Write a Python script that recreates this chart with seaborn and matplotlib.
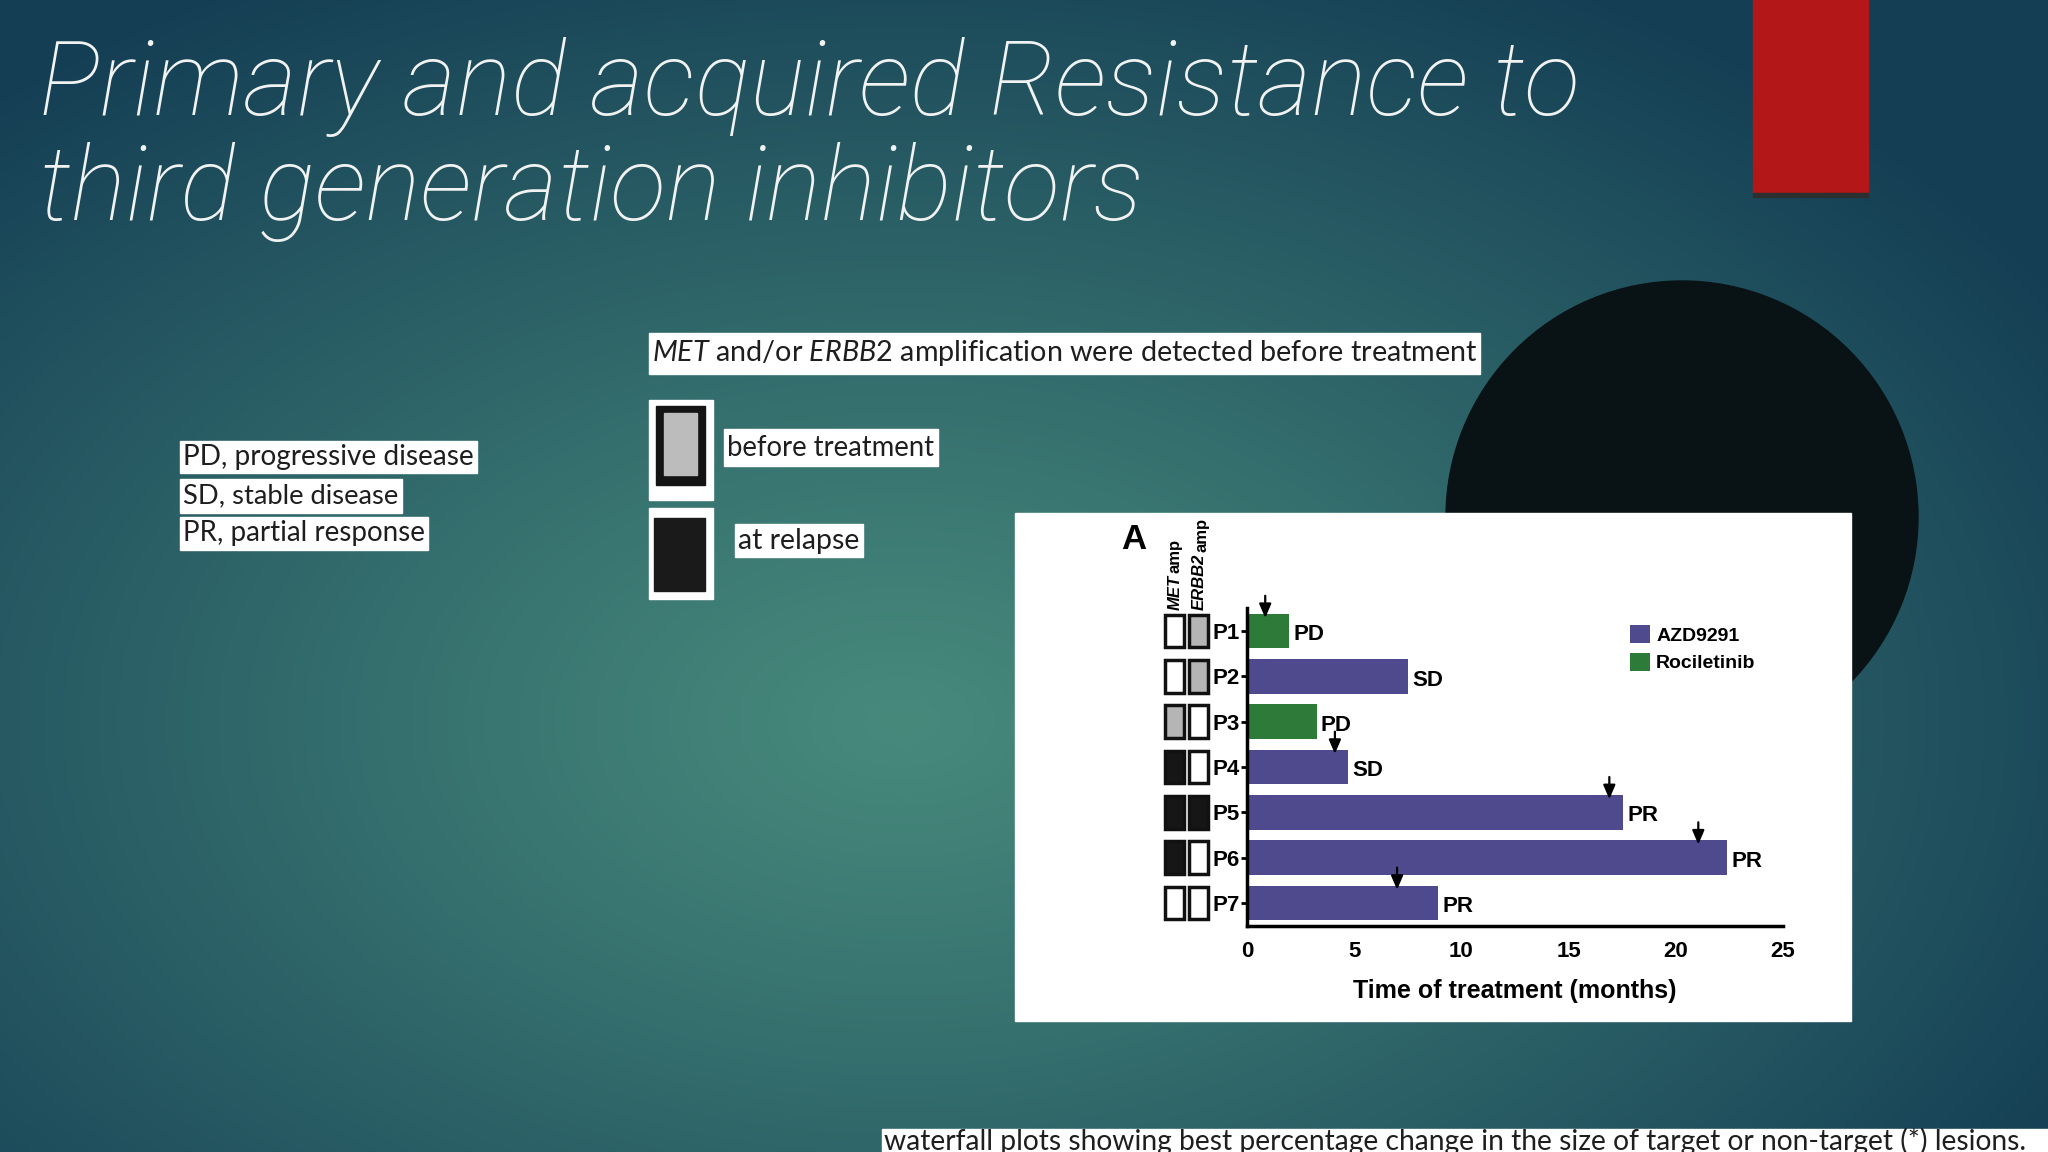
import numpy as np
import pandas as pd
import seaborn as sns
import matplotlib.pyplot as plt
import matplotlib.transforms as mtransforms
from matplotlib.patches import Rectangle, Circle, Patch

# chart values
patients = ["P1", "P2", "P3", "P4", "P5", "P6", "P7"]
months = [1.95, 7.5, 3.25, 4.7, 17.55, 22.4, 8.9]
drugs = ["Rociletinib", "AZD9291", "Rociletinib", "AZD9291", "AZD9291", "AZD9291", "AZD9291"]
responses = ["PD", "SD", "PD", "SD", "PR", "PR", "PR"]
progression = [0.85, None, None, 4.1, 16.9, 21.05, 7.0]
met_amp = ["none", "none", "before", "relapse", "relapse", "relapse", "none"]
erbb2_amp = ["before", "before", "none", "none", "relapse", "none", "none"]
drug_order = ["AZD9291", "Rociletinib"]
x_ticks = [0, 5, 10, 15, 20, 25]

# slide texts
title_lines = ["Primary and acquired Resistance to", "third generation inhibitors"]
response_key = ["PD, progressive disease", "SD, stable disease", "PR, partial response"]
header = r"$\mathit{MET}$ and/or $\mathit{ERBB2}$ amplification were detected before treatment"
amp_key = ["before treatment", "at relapse"]
footnote = "waterfall plots showing best percentage change in the size of target or non-target (*) lesions."

drug_colors = ["#4f4a8d", "#2e7a39"]
amp_fill = {"none": "white", "before": "#b5b5b5", "relapse": "#161616"}

plt.rcParams["font.family"] = ["Liberation Sans", "DejaVu Sans"]
plt.rcParams["mathtext.fontset"] = "custom"
plt.rcParams["mathtext.rm"] = "Lato"
plt.rcParams["mathtext.it"] = "Lato:italic"
plt.rcParams["mathtext.bf"] = "Lato:bold"

W, H = 2048, 1152
fig = plt.figure(figsize=(W / 100, H / 100), dpi=100)
renderer = fig.canvas.get_renderer()

# slide background, coordinates in pixels (y down)
bg = fig.add_axes([0, 0, 1, 1], zorder=0)
yy, xx = np.mgrid[0:H:4, 0:W:4]
t = np.clip(np.hypot((xx - 900) / 1350, (yy - 720) / 850), 0, 1)
c0 = np.array([0x47, 0x8a, 0x7c]) / 255
c1 = np.array([0x14, 0x3e, 0x54]) / 255
img = c0 + (c1 - c0) * (t[..., None] ** 1.1)
bg.imshow(img, extent=(0, W, H, 0), aspect="auto", interpolation="bilinear", zorder=0)
bg.set_xlim(0, W)
bg.set_ylim(H, 0)
bg.axis("off")


def fit_text(x, y, s, width, **kw):
    """draw text and scale its size so it spans the given pixel width"""
    txt = bg.text(x, y, s, fontsize=20, **kw)
    w = txt.get_window_extent(renderer).width
    txt.set_fontsize(20 * width / w)
    return txt


def label_box(x0, y0, x1, y1, s):
    bg.add_patch(Rectangle((x0, y0), x1 - x0, y1 - y0, color="white", zorder=3))
    fit_text(x0 + 3, (y0 + y1) / 2, s, x1 - x0 - 6, family="Lato", va="center",
             color="#1e1e1e", zorder=4)


# decorations
bg.add_patch(Rectangle((1753, 0), 115, 193, color="#b31717", zorder=2))
bg.add_patch(Rectangle((1753, 193), 115, 4, color="#2a2f30", zorder=2))
bg.add_patch(Circle((1682, 517), 236, color="#091315", zorder=1))
bg.add_patch(Rectangle((1015, 513), 836, 508, color="white", zorder=2))

# title
t1 = fit_text(39, 115, title_lines[0], 1541, family=["Roboto", "DejaVu Sans"], weight="light",
              style="italic", color="#f1f3f3", va="baseline", zorder=4)
bg.text(39, 220, title_lines[1], fontsize=t1.get_fontsize(), family=["Roboto", "DejaVu Sans"],
        weight="light", style="italic", color="#f1f3f3", va="baseline", zorder=4)

# slide legends
label_box(180, 441, 477, 473, response_key[0])
label_box(180, 479, 402, 513, response_key[1])
label_box(180, 517, 428, 550, response_key[2])
label_box(649, 333, 1480, 374, header)

bg.add_patch(Rectangle((649, 400), 64, 100, color="white", zorder=3))
bg.add_patch(Rectangle((656, 406), 49, 79, color="#141414", zorder=4))
bg.add_patch(Rectangle((664, 413), 33, 62, color="#bcbcbc", zorder=5))
bg.add_patch(Rectangle((649, 508), 64, 91, color="white", zorder=3))
bg.add_patch(Rectangle((654, 518), 51, 73, color="#1a1a1a", zorder=4))
label_box(724, 429, 938, 466, amp_key[0])
label_box(735, 524, 863, 557, amp_key[1])

bg.add_patch(Rectangle((882, 1129), W - 882, 30, color="white", zorder=3))
fit_text(884, 1150, footnote, 1147, family="Lato", va="baseline", color="#1e1e1e", zorder=4)

# chart panel
ax = fig.add_axes([1247 / W, 1 - 926 / H, 536 / W, 318 / H], zorder=3)
df = pd.DataFrame({"patient": patients, "months": months, "drug": drugs})
sns.barplot(data=df, x="months", y="patient", hue="drug", hue_order=drug_order,
            palette=drug_colors, dodge=False, width=0.76, saturation=1, orient="h",
            legend=False, ax=ax)

for i in range(len(patients)):
    ax.text(months[i] + 0.2, i + 0.08, responses[i], va="center", ha="left",
            fontsize=16, fontweight="bold")
    if progression[i] is not None:
        ax.annotate("", xy=(progression[i], i - 0.29), xytext=(progression[i], i - 0.78),
                    arrowprops=dict(arrowstyle="-|>,head_length=0.7,head_width=0.3",
                                    color="black", lw=1.6, shrinkA=0, shrinkB=0,
                                    mutation_scale=12),
                    annotation_clip=False)

# amplification status boxes
trans = mtransforms.blended_transform_factory(ax.transAxes, ax.transData)
for i in range(len(patients)):
    for xa, status in [(-0.153, met_amp[i]), (-0.108, erbb2_amp[i])]:
        ax.add_patch(Rectangle((xa, i - 0.36), 0.035, 0.72, transform=trans,
                               facecolor=amp_fill[status], edgecolor="#111111",
                               lw=2.5, clip_on=False))

ax.set_xlim(0, 25)
ax.set_ylim(6.51, -0.51)
ax.set_xticks(x_ticks)
ax.set_ylabel("")
ax.set_xlabel("Time of treatment (months)", fontsize=18, fontweight="bold", labelpad=12)
ax.set_facecolor("white")
for side in ["top", "right"]:
    ax.spines[side].set_visible(False)
for side in ["left", "bottom"]:
    ax.spines[side].set_linewidth(2.5)
ax.tick_params(axis="x", length=0, pad=11, labelsize=16)
ax.tick_params(axis="y", length=4, width=2, pad=1, labelsize=16)
for lab in ax.get_xticklabels() + ax.get_yticklabels():
    lab.set_fontweight("bold")

handles = [Patch(facecolor=c, edgecolor="none", label=d) for d, c in zip(drug_order, drug_colors)]
ax.legend(handles=handles, loc="upper left", bbox_to_anchor=(0.70, 0.97), frameon=False,
          prop=dict(weight="bold", size=14), handlelength=1.05, handleheight=1.05,
          handletextpad=0.3, labelspacing=0.4, borderaxespad=0)

# column headers and panel letter
m = bg.text(1175, 610, "MET", rotation=90, ha="center", va="bottom", fontsize=12,
            fontweight="bold", style="italic", zorder=4)
h = m.get_window_extent(renderer).height
bg.text(1175, 608 - h, "amp", rotation=90, ha="center", va="bottom", fontsize=12,
        fontweight="bold", zorder=4)
e = bg.text(1199, 610, "ERBB2", rotation=90, ha="center", va="bottom", fontsize=12,
            fontweight="bold", style="italic", zorder=4)
h = e.get_window_extent(renderer).height
bg.text(1202, 608 - h, "amp", rotation=90, ha="center", va="bottom", fontsize=12,
        fontweight="bold", zorder=4)
bg.text(1121, 549, "A", fontsize=25, fontweight="bold", va="baseline", zorder=4)

fig.savefig("out.png", dpi=100)
